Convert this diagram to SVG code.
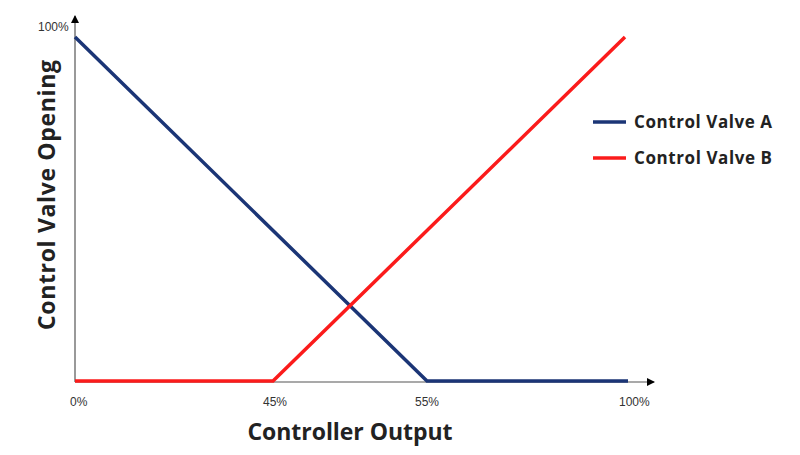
<svg xmlns="http://www.w3.org/2000/svg" width="800" height="455" viewBox="0 0 800 455">
<defs><marker id="ah" markerWidth="8" markerHeight="8" refX="7" refY="4" orient="auto" markerUnits="userSpaceOnUse"><path d="M0,0 L8,4 L0,8 Z" fill="#000"/></marker></defs>
<style>.t{font-family:"Liberation Sans",Arial,sans-serif;fill:#333;font-size:12px}.b{font-family:"Open Sans","Liberation Sans",sans-serif;font-weight:bold;fill:#222}</style>
<rect width="800" height="455" fill="#fff"/>
<g id="axes" stroke="#555" stroke-width="1.2"><line x1="75" y1="382" x2="75" y2="16" marker-end="url(#ah)"/><line x1="75" y1="382" x2="654" y2="382" marker-end="url(#ah)"/></g>
<g id="connectors" fill="none" stroke-width="3.5">
<polyline id="valveA" points="75,37 427,381 628,381" stroke="#1b3576"/>
<polyline id="valveB" points="75,381 273,381 625,37" stroke="#fb1b1b"/>
</g>
<g id="labels">
<text class="t" x="38" y="31">100%</text>
<text class="t" x="70" y="406">0%</text>
<text class="t" x="263" y="406">45%</text>
<text class="t" x="415" y="406">55%</text>
<text class="t" x="619" y="406">100%</text>
<text class="b" x="350" y="440" font-size="23" text-anchor="middle" textLength="205">Controller Output</text>
<text class="b" x="0" y="0" font-size="23" text-anchor="middle" textLength="270" transform="translate(55,195) rotate(-90)">Control Valve Opening</text>
</g>
<g id="legend">
<line x1="593" y1="122" x2="626" y2="122" stroke="#1b3576" stroke-width="3.5"/>
<text class="b" x="634" y="128" font-size="17" textLength="138">Control Valve A</text>
<line x1="593" y1="158" x2="626" y2="158" stroke="#fb1b1b" stroke-width="3.5"/>
<text class="b" x="634" y="164" font-size="17" textLength="138">Control Valve B</text>
</g>
</svg>
